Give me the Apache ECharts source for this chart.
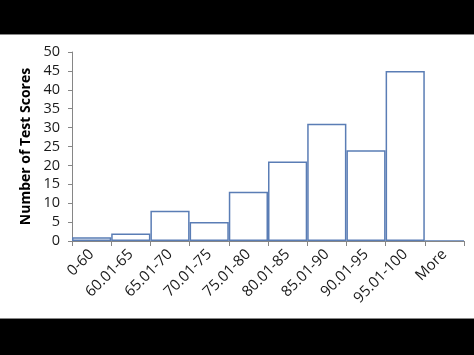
<!DOCTYPE html>
<html><head><meta charset="utf-8">
<script src="https://cdn.jsdelivr.net/npm/echarts@6/dist/echarts.min.js"></script>
<style>html,body{margin:0;padding:0;background:#fff}#c{width:474px;height:355px}</style>
</head><body><div id="c"></div>
<script>
const categories = ['0-60','60.01-65','65.01-70','70.01-75','75.01-80','80.01-85','85.01-90','90.01-95','95.01-100','More'];
const counts = [1, 2, 8, 5, 13, 21, 31, 24, 45, 0];
const yTicks = {min: 0, max: 50, step: 5};
const yTitle = 'Number of Test Scores';

const chart = echarts.init(document.getElementById('c'), null, {renderer: 'canvas'});
const font = '"Open Sans", "Liberation Sans", sans-serif';
chart.setOption({
  animation: false,
  backgroundColor: '#fff',
  graphic: [
    {type: 'rect', left: 0, top: 0, shape: {width: 474, height: 34}, style: {fill: '#000'}, z: 100},
    {type: 'rect', left: 0, top: 34, shape: {width: 474, height: 1}, style: {fill: '#888'}, z: 100},
    {type: 'rect', left: 0, top: 318, shape: {width: 474, height: 1}, style: {fill: '#888'}, z: 100},
    {type: 'rect', left: 0, top: 319, shape: {width: 474, height: 36}, style: {fill: '#000'}, z: 100}
  ],
  grid: {left: 72, right: 10, top: 52, bottom: 114, containLabel: false},
  xAxis: {
    type: 'category',
    data: categories,
    z: 5,
    axisLine: {lineStyle: {color: '#868686', width: 1}},
    axisTick: {show: true, length: 5, lineStyle: {color: '#868686'}},
    axisLabel: {rotate: 45, fontSize: 15, color: '#1a1a1a', fontFamily: font, margin: 11, interval: 0}
  },
  yAxis: {
    type: 'value',
    min: yTicks.min, max: yTicks.max, interval: yTicks.step,
    name: yTitle,
    nameLocation: 'middle',
    nameGap: 38,
    nameTextStyle: {fontSize: 14, fontWeight: 'bold', color: '#000', fontFamily: font},
    axisLine: {show: true, lineStyle: {color: '#868686', width: 1}},
    axisTick: {show: true, length: 4, lineStyle: {color: '#868686'}},
    axisLabel: {fontSize: 14.5, color: '#1a1a1a', fontFamily: font, margin: 12},
    splitLine: {show: false}
  },
  series: [{
    type: 'bar',
    data: counts,
    barCategoryGap: 0,
    itemStyle: {color: '#fff', borderColor: '#5a7db5', borderWidth: 1.5}
  }]
});
</script></body></html>
